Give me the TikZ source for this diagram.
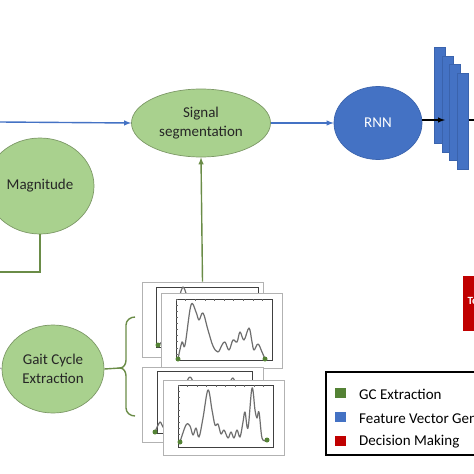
\documentclass[tikz,border=0pt]{standalone}
\usepackage{fontspec}
\setmainfont{Carlito}
\usetikzlibrary{shapes.geometric}

\definecolor{gfill}{HTML}{A9D18E}
\definecolor{gedge}{HTML}{7C9866}
\definecolor{gconn}{HTML}{6A8C47}
\definecolor{gdark}{HTML}{548235}
\definecolor{bfill}{HTML}{4472C4}
\definecolor{bedge}{HTML}{3A63AD}
\definecolor{rfill}{HTML}{C00000}
\definecolor{curve}{HTML}{6E6E6E}

\tikzset{
  greenell/.style={ellipse, draw=gedge, fill=gfill, line width=0.7pt, text=black!85, align=center, inner sep=0pt},
  blueell/.style={ellipse, draw=bedge, fill=bfill, line width=0.7pt, text=white, inner sep=0pt},
  layer/.style={rectangle, draw=bedge, fill=bfill, line width=0.5pt, minimum width=11, minimum height=96, inner sep=0pt},
  panel/.style={rectangle, draw=black!30, fill=white, line width=0.8pt, minimum width=121, minimum height=75, inner sep=0pt},
  axes/.style={draw=black!75, line width=1pt},
  gc/.style={draw=curve, line width=1.2pt, line join=round},
  gcdot/.style={circle, fill=gdark, inner sep=0pt, minimum size=5},
  blueline/.style={draw=bfill, line width=1.4pt},
  greenline/.style={draw=gconn, line width=1.4pt},
  legsq/.style={rectangle, inner sep=0pt, minimum width=11, minimum height=10}
}

\begin{document}
\begin{tikzpicture}[x=1pt, y=-1pt, font=\fontsize{15}{19}\selectfont]

\useasboundingbox (0,0) rectangle (474,474);
\clip (0,0) rectangle (474,474);

% main blocks
\node[greenell, minimum width=108, minimum height=96] (mag) at (40,186) {Magnitude};
\node[greenell, minimum width=139, minimum height=68] (seg) at (201,123) {Signal\\segmentation};
\node[blueell, minimum width=88, minimum height=73] (rnn) at (378,123) {RNN};
\node[greenell, minimum width=102, minimum height=88] (gait) at (53,369) {Gait Cycle\\Extraction};

% stacked layers
\foreach \i in {1,...,4}
  \node[layer, anchor=north west] (fc\i) at ({434+7.7*(\i-1)},{47+8.7*(\i-1)}) {};

% red block
\node[rectangle, fill=rfill, anchor=north west, minimum width=40, minimum height=55, inner sep=0pt] (dec) at (463,276) {};
\node[anchor=west, text=white, font=\fontsize{11}{13}\selectfont\bfseries, inner sep=0pt] (dectxt) at (467.5,302) {Testing};

% connectors
\coordinate (inleft) at (0,122);
\draw[blueline, -latex] (inleft) -- (seg.west);
\draw[blueline, -latex] (seg.east) -- (rnn.west);
\draw[line width=1.4pt, -latex] (rnn.east |- 0,120) -- (445,120);
\coordinate (outright) at (480,120);
\draw[line width=1.4pt] (fc4.east |- 0,120) -- (outright);

\coordinate (magcorner) at (40,272);
\coordinate (magleft) at (0,272);
\draw[greenline] (mag.south) -- (magcorner) -- (magleft);

\coordinate (gaitleft) at (0,368);
\draw[draw=black!35, line width=1pt] (gaitleft) -- (gait.west);
\coordinate (brtip) at (120,368);
\draw[greenline] (gait.east) -- (brtip);
\draw[greenline] (135,317) to[out=180,in=90] (126,325) -- (126,360)
  to[out=-90,in=0] (brtip) to[out=0,in=90] (126,376) -- (126,408)
  to[out=-90,in=180] (135,416);

% gait cycle plots, back upper
\node[panel] (p1) at (202.5,319.5) {};
\draw[axes] (156,287) rectangle (258,347);
\draw[gc] plot[smooth] coordinates {(158,346) (163,340) (170,326) (177,305) (183,287) (188,300) (195,320)};
\node[gcdot] (d1) at (158,345) {};

% front upper
\node[panel] (p2) at (222,331) {};
\draw[axes] (176,299) rectangle (272,360);
\foreach \t in {0,...,9} {
  \draw[black!60, line width=0.5pt] ({176+9.6*\t},299) -- ++(0,2);
  \draw[black!60, line width=0.5pt] (176,{299+6.1*\t}) -- ++(2,0);
}
\draw[gc] plot[smooth, tension=0.6] coordinates {(178,359) (182,342) (185,345) (191,305) (196,312) (199,320) (203,313) (208,330) (213,346) (218,352) (222,345) (225,342) (229,350) (233,340) (237,342) (240,332) (244,340) (249,328) (252,342) (254,350) (258,344) (262,352) (265,359)};
\node[gcdot] (d2) at (178,359) {};
\node[gcdot] (d3) at (265,359) {};

% back lower
\node[panel] (p3) at (202.5,404.5) {};
\draw[axes] (157,371) rectangle (252,433);
\draw[gc] plot[smooth] coordinates {(155,432) (160,422) (164,428) (170,420) (180,400) (190,377) (200,400) (215,410) (225,395) (233,378) (240,400)};
\node[gcdot] (d4) at (155,432) {};

% front lower
\node[panel] (p4) at (224,417.5) {};
\draw[axes] (178,385) rectangle (273,447);
\foreach \t in {0,...,9} {
  \draw[black!60, line width=0.5pt] ({178+9.5*\t},385) -- ++(0,2);
  \draw[black!60, line width=0.5pt] (178,{385+6.2*\t}) -- ++(2,0);
}
\draw[gc] plot[smooth, tension=0.6] coordinates {(180,442) (186,425) (190,426) (193,435) (196,428) (199,437) (203,418) (208,390) (212,410) (215,425) (218,424) (221,434) (224,430) (228,438) (231,432) (234,438) (237,430) (240,437) (243,422) (245,412) (248,428) (252,388) (255,410) (257,418) (259,412) (262,438) (266,440)};
\node[gcdot] (d5) at (180,442) {};
\node[gcdot] (d6) at (267,440) {};

\draw[greenline, -latex] (p1.north) -- (seg.south);

% legend
\draw[line width=1.4pt, fill=white] (326,372) rectangle (490,455);
\node[legsq, fill=gdark] (lg) at (340.5,393) {};
\node[legsq, fill=bfill] (lb) at (340.5,417) {};
\node[legsq, fill=rfill] (lr) at (340.5,441) {};
\node[anchor=west, inner sep=0pt] (tg) at (359,394) {GC Extraction};
\node[anchor=west, inner sep=0pt] (tb) at (359,418) {Feature Vector Generation};
\node[anchor=west, inner sep=0pt] (tr) at (359,442) {Decision Making};

\end{tikzpicture}
\end{document}
